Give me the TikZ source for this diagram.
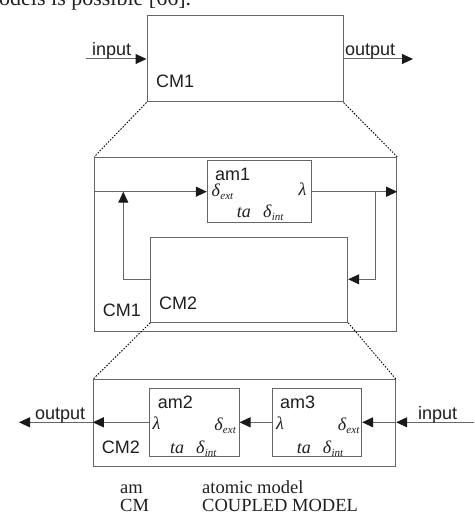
\documentclass[tikz,border=0pt]{standalone}
\usepackage{fontspec}
\setmainfont{Liberation Sans}
\newfontfamily\tms{Liberation Serif}
\usetikzlibrary{arrows.meta}
\definecolor{linegray}{gray}{0.40}
\definecolor{txtc}{gray}{0.12}
\newcommand{\mysub}[1]{\kern0.3pt\raisebox{-0.35ex}{\fontsize{11}{11}\selectfont #1}}
\tikzset{
  box/.style={draw=linegray, line width=1pt, inner sep=0pt},
  lbl/.style={font=\fontsize{18}{18}\selectfont, text=txtc, inner sep=0pt, anchor=base west},
  gk/.style={font=\tms\itshape\fontsize{18}{18}\selectfont, text=txtc, inner sep=0pt, anchor=base west},
  leg/.style={font=\tms\fontsize{18.5}{18.5}\selectfont, text=txtc, inner sep=0pt, anchor=base west},
  sig/.style={draw=linegray, line width=1pt},
  arr/.style={sig, -{Triangle[length=11pt,width=10pt,color=black!90]}},
  zoomline/.style={draw=black, line width=0.9pt, dash pattern=on 1.5pt off 1.5pt},
}
\begin{document}
\begin{tikzpicture}[x=1pt,y=-1pt]
\useasboundingbox (0,0) rectangle (474,516);
\begin{scope}
\clip (0,0) rectangle (474,516);
\node[leg, font=\tms\fontsize{22}{22}\selectfont] (cap) at (-1,6) {odels is possible [66].};
\end{scope}

% top CM1
\node[box, minimum width=196pt, minimum height=86pt] (cmtop) at (245,59) {};
\coordinate (inA) at (86,59);
\coordinate (outA) at (413,59);
\draw[arr] (inA) -- (cmtop.west);
\draw[arr] (cmtop.east) -- (outA);
\node[lbl] (tin) at (92,56) {input};
\node[lbl] (tout) at (345,56) {output};
\node[lbl] (tcm1) at (156,87.5) {CM1};

% middle CM1
\node[box, minimum width=302pt, minimum height=173.7pt] (cm1) at (245.7,244.2) {};
\node[box, minimum width=104.4pt, minimum height=62pt] (am1) at (259.5,191.7) {};
\node[box, minimum width=197pt, minimum height=85pt] (cm2) at (249.2,279.8) {};
\draw[zoomline] (cmtop.south west) -- (cm1.north west);
\draw[zoomline] (cmtop.south east) -- (cm1.north east);

\coordinate (jL) at (cm1.west |- am1.west);
\coordinate (jUp) at (123.3,191.7);
\coordinate (jUpB) at (123.3,279.3);
\coordinate (cm2L) at (cm2.west |- jUpB);
\coordinate (jR) at (375,191.7);
\coordinate (jRB) at (375,279.3);
\coordinate (cm2R) at (cm2.east |- jRB);
\coordinate (cm1R) at (cm1.east |- am1.east);
\draw[arr] (jL) -- (am1.west);
\draw[arr] (am1.east) -- (cm1R);
\draw[arr] (cm2L) -- (jUpB) -- (jUp);
\draw[arr] (jR) -- (jRB) -- (cm2R);

\node[lbl] (tam1) at (215,180.7) {am1};
\node[gk] (d1e) at (211.5,196.7) {δ\mysub{ext}};
\node[gk] (l1) at (298.5,195.7) {λ};
\node[gk] (ta1) at (236.7,217.3) {ta};
\node[gk] (d1i) at (263,217.3) {δ\mysub{int}};
\node[lbl] (tcm1b) at (102.7,316.7) {CM1};
\node[lbl] (tcm2) at (159,309) {CM2};

% bottom CM2
\node[box, minimum width=302.4pt, minimum height=86.7pt] (cm2b) at (244.5,423.3) {};
\node[box, minimum width=90pt, minimum height=68.3pt] (am2) at (194,422.3) {};
\node[box, minimum width=89.4pt, minimum height=68.3pt] (am3) at (317,422.3) {};
\draw[zoomline] (cm2.south west) -- (cm2b.north west);
\draw[zoomline] (cm2.south east) -- (cm2b.north east);

\coordinate (cbL) at (cm2b.west |- am2.west);
\coordinate (cbR) at (cm2b.east |- am3.east);
\coordinate (outB) at (19,422.3);
\coordinate (inB) at (474,422.3);
\draw[arr] (am2.west) -- (cbL);
\draw[arr] (cbL) -- (outB);
\draw[arr] (am3.west) -- (am2.east);
\draw[arr] (inB) -- (cbR);
\draw[arr] (cbR) -- (am3.east);

\node[lbl] (tout2) at (35,419) {output};
\node[lbl] (tin2) at (418,419) {input};
\node[lbl] (tcm2b) at (101.7,453.3) {CM2};

\node[lbl] (tam2) at (157.7,408.3) {am2};
\node[gk] (l2) at (152.5,429) {λ};
\node[gk, anchor=base east] (d2e) at (236,430.5) {δ\mysub{ext}};
\node[gk] (ta2) at (170,453.3) {ta};
\node[gk] (d2i) at (196,453.3) {δ\mysub{int}};

\node[lbl] (tam3) at (280,408.3) {am3};
\node[gk] (l3) at (276,429) {λ};
\node[gk, anchor=base east] (d3e) at (359.5,430.5) {δ\mysub{ext}};
\node[gk] (ta3) at (296.7,453.3) {ta};
\node[gk] (d3i) at (322.7,453.3) {δ\mysub{int}};

% legend
\node[leg] (lg1) at (120,493.3) {am};
\node[leg] (lg2) at (202,493.3) {atomic model};
\node[leg] (lg3) at (120,511.7) {CM};
\node[leg] (lg4) at (202,511.7) {COUPLED MODEL};
\end{tikzpicture}
\end{document}
